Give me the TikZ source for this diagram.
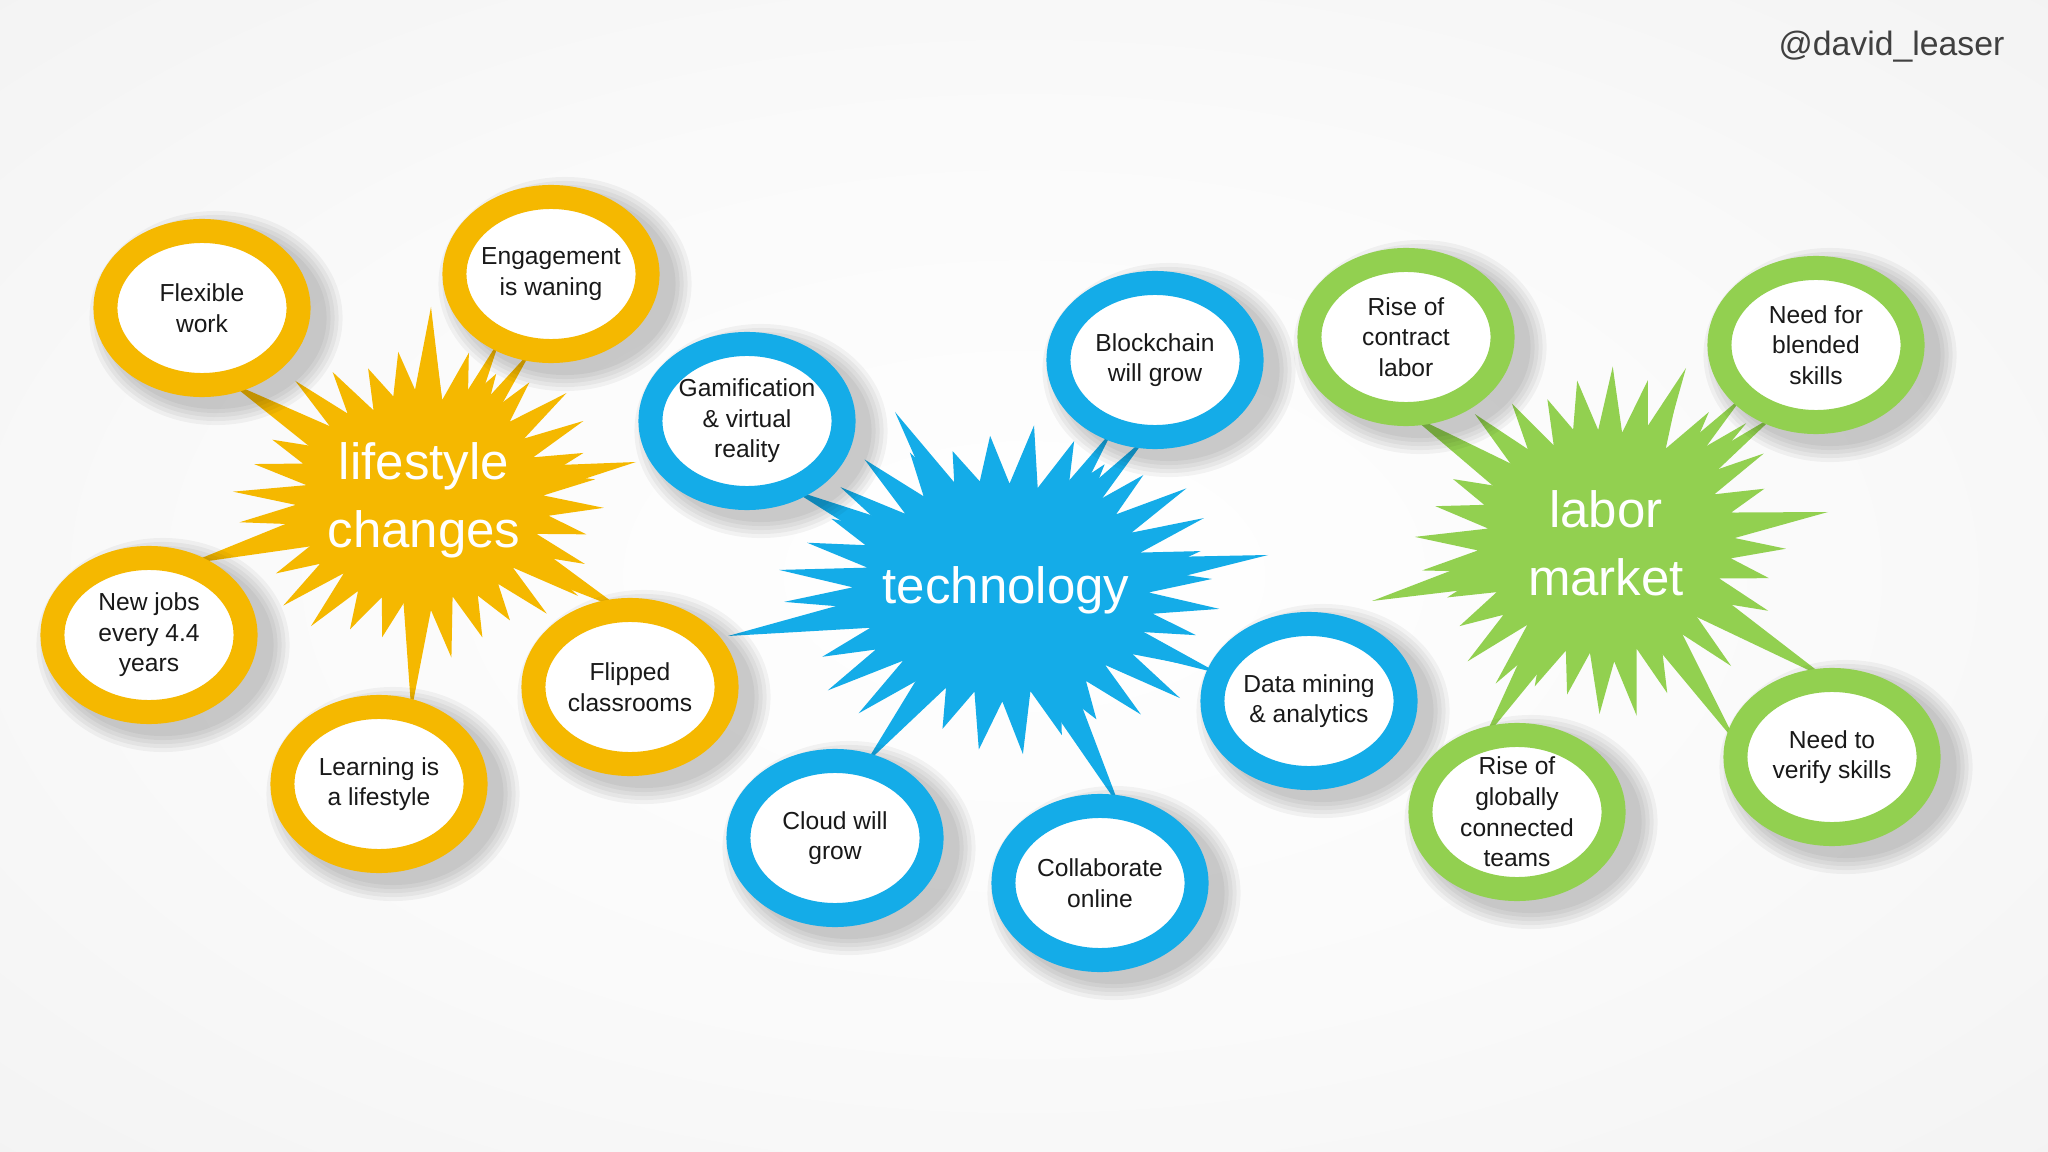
\documentclass[tikz,border=0pt]{standalone}
\usepackage{fontspec}
\setmainfont{Liberation Sans}
\usepackage{tikz}
\usetikzlibrary{calc, shapes.geometric, backgrounds}

\definecolor{lifegold}{HTML}{F5B800}
\definecolor{techblue}{HTML}{14ACE8}
\definecolor{laborgreen}{HTML}{92D050}

\pgfdeclareradialshading{backdrop}{\pgfpointorigin}{color(0bp)=(white); color(20bp)=(white!98!black); color(50bp)=(white!93!black); color(71bp)=(white!89!black)}

\tikzstyle{bubble} = [ellipse, minimum width=1.93cm, minimum height=1.54cm, inner sep=-0.3cm, outer sep=0pt, line width=0.24cm, fill=white, align=center, text=black!90, font=\fontsize{7}{8.7}\selectfont,
  preaction={draw=black, opacity=0.045, line width=0.60cm, transform canvas={shift={(0.14cm,-0.10cm)}}},
  preaction={draw=black, opacity=0.045, line width=0.52cm, transform canvas={shift={(0.14cm,-0.10cm)}}},
  preaction={draw=black, opacity=0.045, line width=0.44cm, transform canvas={shift={(0.14cm,-0.10cm)}}},
  preaction={draw=black, opacity=0.045, line width=0.36cm, transform canvas={shift={(0.14cm,-0.10cm)}}},
  preaction={draw=black, opacity=0.045, line width=0.28cm, transform canvas={shift={(0.14cm,-0.10cm)}}}]
\tikzstyle{goldbub} = [bubble, draw=lifegold]
\tikzstyle{bluebub} = [bubble, draw=techblue]
\tikzstyle{greenbub} = [bubble, draw=laborgreen]
\tikzstyle{startext} = [align=center, text=white, inner sep=0pt, font=\fontsize{14.5}{19.3}\selectfont]
\tikzstyle{handle} = [anchor=east, inner sep=0pt, text=black!75, font=\fontsize{9.6}{11}\selectfont]

% star body: node, colour, rx, ry, turn
\newcommand{\burst}[5]{\fill[#2, shift={(#1.center)}] plot[samples at={0,...,63}, variable=\k]
  ({bf(\k)*#3*cos(\k*5.625+#5)}, {bf(\k)*#4*sin(\k*5.625+#5)}) -- cycle;}
% long spike from a star to a point: colour, star, tip, half base
\newcommand{\spike}[4]{\fill[#1] let \p1=($(#3)-(#2.center)$), \n1={atan2(\y1,\x1)} in
  ($(#2.center)+(\n1+90:#4)$) -- (#3) -- ($(#2.center)+(\n1-90:#4)$) -- cycle;}

\begin{document}
\begin{tikzpicture}[x=0.01cm, y=-0.01cm,
  declare function={bf(\k)=(mod(\k,2)==0) ? 1+0.07*sin(\k*137) : 0.69+0.03*cos(\k*71);}]
\useasboundingbox (0,0) rectangle (2048,1152);

\node (tag) [handle] at (2005,47) {@david\_leaser};

% lifestyle changes
\node (lc) [startext] at (424,500) {lifestyle\\changes};
\node (flex) [goldbub] at (202,308) {Flexible\\work};
\node (eng) [goldbub] at (551,274) {Engagement\\is waning};
\node (newj) [goldbub] at (149,635) {New jobs\\every 4.4\\years};
\node (learn) [goldbub] at (379,784) {Learning is\\a lifestyle};
\node (flip) [goldbub] at (630,687) {Flipped\\classrooms};
\coordinate (lcup) at (431,307);
\coordinate (lcright) at (636,462);

% technology
\node (tc) [startext] at (1006,590) {technology};
\node (gam) [bluebub] at (747,421) {Gamification\\\& virtual\\reality};
\node (block) [bluebub] at (1155,360) {Blockchain\\will grow};
\node (dm) [bluebub] at (1309,701) {Data mining\\\& analytics};
\node (cloud) [bluebub] at (835,838) {Cloud will\\grow};
\node (collab) [bluebub] at (1100,883) {Collaborate\\online};
\coordinate (tcup) at (895,412);
\coordinate (tcright) at (1268,555);
\coordinate (tcleft) at (728,636);

% labor market
\node (mc) [startext] at (1606,543) {labor\\market};
\node (rcl) [greenbub] at (1406,337) {Rise of\\contract\\labor};
\node (nbs) [greenbub] at (1816,345) {Need for\\blended\\skills};
\node (rgc) [greenbub] at (1517,812) {Rise of\\globally\\connected\\teams};
\node (nvs) [greenbub] at (1832,757) {Need to\\verify skills};
\coordinate (mcup) at (1686,368);
\coordinate (mcleft) at (1372,601);
\coordinate (mcright) at (1828,512);

\begin{pgfonlayer}{background}
\shade[shading=backdrop] (0,0) rectangle (2048,1152);

\burst{lc}{lifegold}{180}{150}{3}
\spike{lifegold}{lc}{flex.-70}{0.3cm}
\spike{lifegold}{lc}{eng.-128}{0.22cm}
\spike{lifegold}{lc}{eng.-104}{0.22cm}
\spike{lifegold}{lc}{newj.62}{0.3cm}
\spike{lifegold}{lc}{learn.66}{0.28cm}
\spike{lifegold}{lc}{flip.95}{0.3cm}
\spike{lifegold}{lc}{lcup}{0.3cm}
\spike{lifegold}{lc}{lcright}{0.3cm}

\burst{tc}{techblue}{215}{155}{7}
\spike{techblue}{tc}{gam.-57}{0.3cm}
\spike{techblue}{tc}{block.-121}{0.24cm}
\spike{techblue}{tc}{block.-96}{0.24cm}
\spike{techblue}{tc}{dm.163}{0.3cm}
\spike{techblue}{tc}{collab.75}{0.3cm}
\spike{techblue}{tc}{cloud.68}{0.3cm}
\spike{techblue}{tc}{tcup}{0.3cm}
\spike{techblue}{tc}{tcright}{0.3cm}
\spike{techblue}{tc}{tcleft}{0.3cm}

\burst{mc}{laborgreen}{180}{165}{2}
\spike{laborgreen}{mc}{rcl.-88}{0.3cm}
\spike{laborgreen}{mc}{nbs.-145}{0.24cm}
\spike{laborgreen}{mc}{nbs.-120}{0.24cm}
\spike{laborgreen}{mc}{nvs.92}{0.28cm}
\spike{laborgreen}{mc}{nvs.172}{0.28cm}
\spike{laborgreen}{mc}{rgc.115}{0.3cm}
\spike{laborgreen}{mc}{mcup}{0.3cm}
\spike{laborgreen}{mc}{mcleft}{0.3cm}
\spike{laborgreen}{mc}{mcright}{0.3cm}
\end{pgfonlayer}

\end{tikzpicture}
\end{document}
